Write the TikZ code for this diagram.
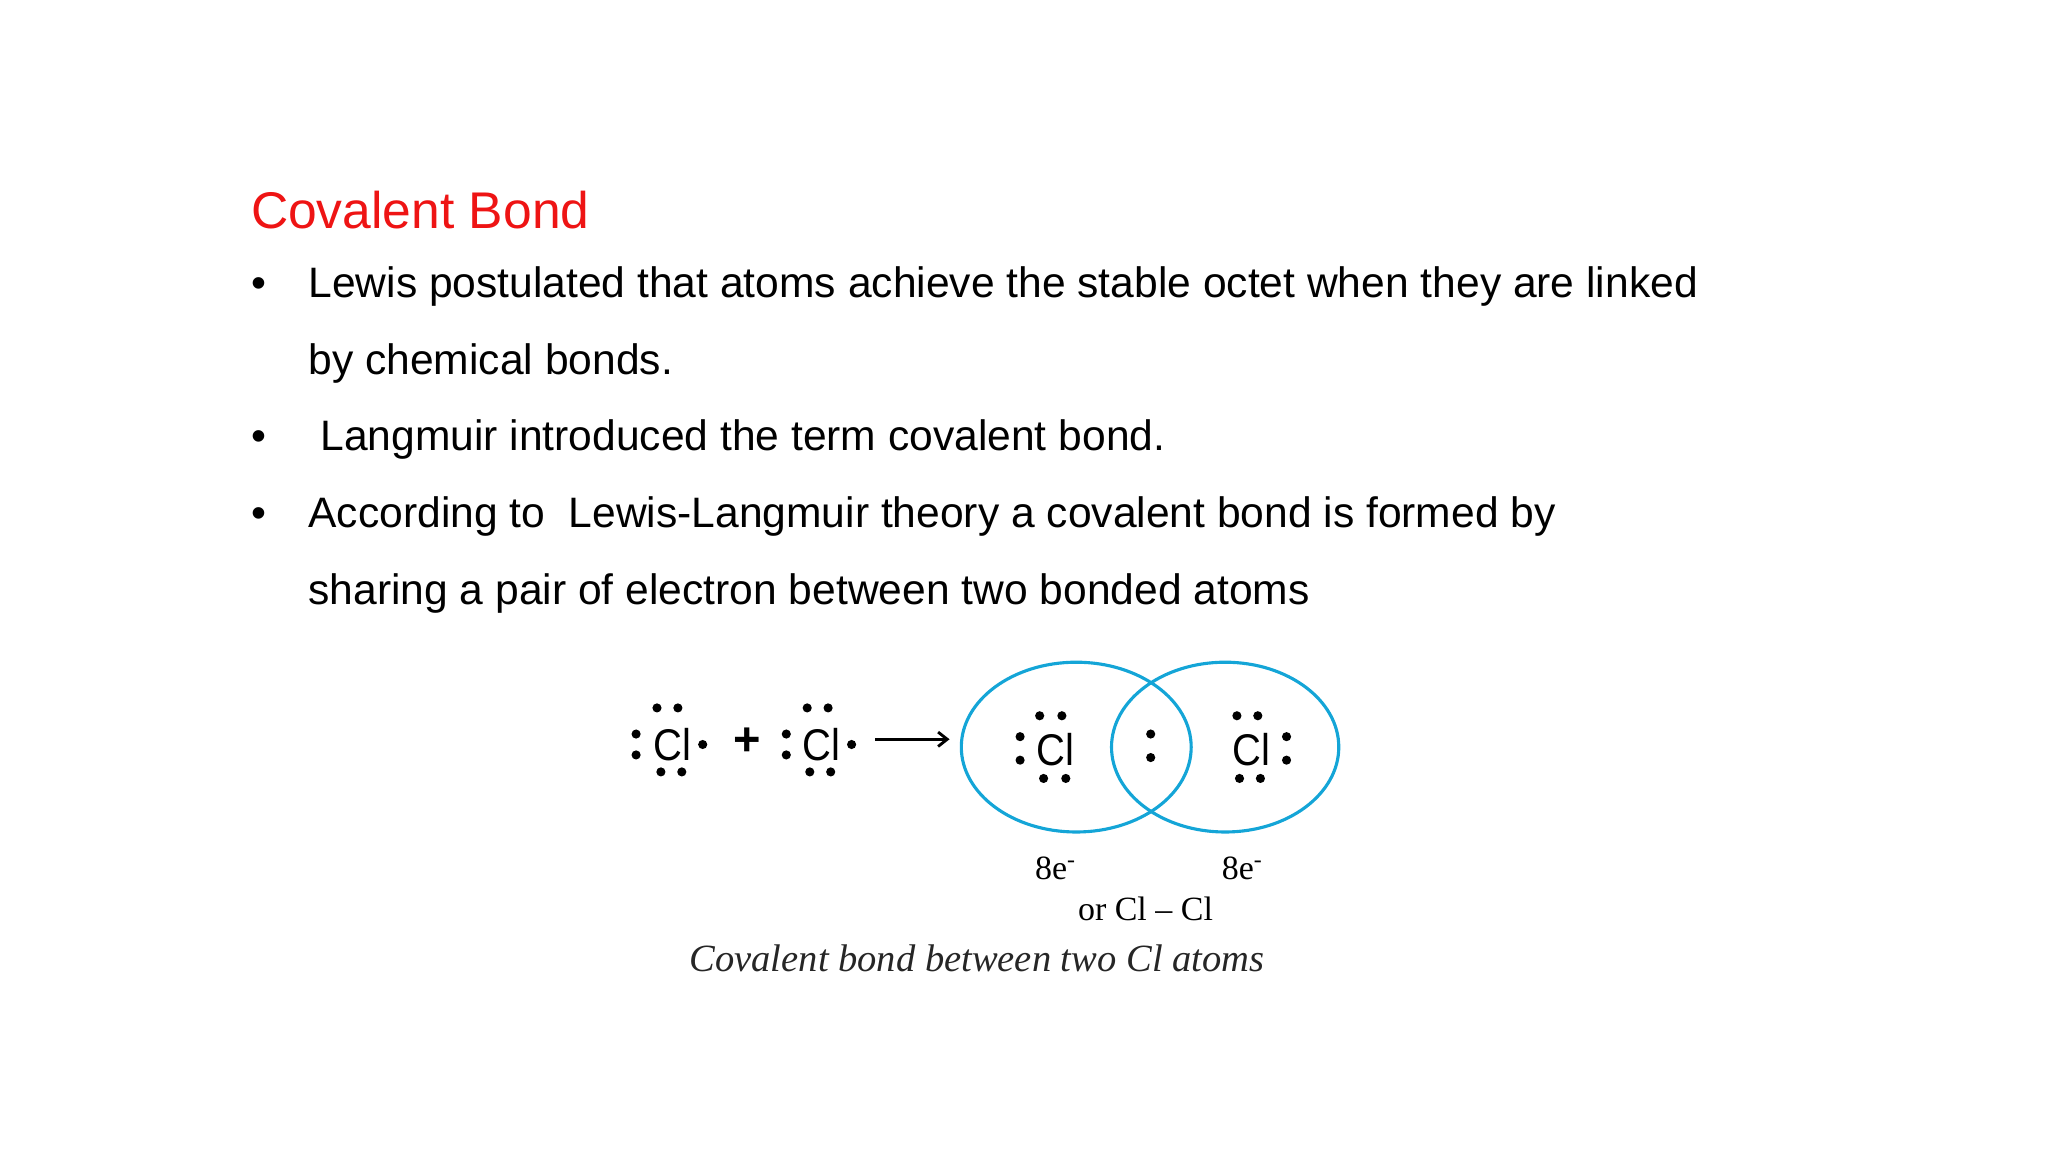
\documentclass[tikz,border=0pt]{standalone}
\usepackage{fontspec}
\usetikzlibrary{arrows.meta,shapes.geometric}
\setmainfont{Liberation Sans}
\newfontfamily\serifpart{Liberation Serif}
\definecolor{titlered}{RGB}{238,20,20}
\definecolor{ringblue}{RGB}{20,165,215}
\begin{document}
\begin{tikzpicture}[x=1pt,y=-1pt,
  body/.style={anchor=base west,inner sep=0pt,font=\fontsize{32.6}{38}\selectfont},
  bul/.style={anchor=base,inner sep=0pt,font=\fontsize{32.6}{38}\selectfont},
  sym/.style={inner sep=0pt,font=\fontsize{34}{38}\selectfont,xscale=0.9},
  ring/.style={draw=ringblue,line width=2.4pt},
  lbl/.style={inner sep=0pt,font=\serifpart\fontsize{26}{30}\selectfont},
  edot/.style={fill=black}]
\useasboundingbox (0,0) rectangle (1568,882);
\node[anchor=base west,inner sep=0pt,text=titlered,font=\fontsize{39.5}{44}\selectfont] (title) at (192,175) {Covalent Bond};
\node[bul] (b1) at (198,228) {•};
\node[body] (l1) at (236,228) {Lewis postulated that atoms achieve the stable octet when they are linked};
\node[body] (l2) at (236,287) {by chemical bonds.};
\node[bul] (b2) at (198,345) {•};
\node[body] (l3) at (236,345) {\ Langmuir introduced the term covalent bond.};
\node[bul] (b3) at (198,404) {•};
\node[body] (l4) at (236,404) {According to\ \ Lewis-Langmuir theory a covalent bond is formed by};
\node[body] (l5) at (236,463) {sharing a pair of electron between two bonded atoms};
% reactants
\node[sym] (cla) at (515,570) {Cl};
\node[inner sep=0pt,font=\bfseries\fontsize{36}{40}\selectfont] (plus) at (572,568) {+};
\node[sym] (clb) at (629,570) {Cl};
\foreach \x/\y in {487/562,487/578,503/542,519/542,506/591,522/591,538/570,
                   602/562,602/578,618/542,634/542,620/591,636/591,652/570}
  \fill[edot] (\x,\y) circle (3.5);
\coordinate (ars) at (670,566);
\coordinate (are) at (727,566);
\draw[line width=2.2pt,-{Straight Barb[length=7pt,width=11pt]}] (ars) -- (are);
% product
\node[ring,ellipse,minimum width=176,minimum height=130,inner sep=0pt] (r1) at (824,572) {};
\node[ring,ellipse,minimum width=174,minimum height=130,inner sep=0pt] (r2) at (938,572) {};
\node[sym] (clc) at (808,574) {Cl};
\node[sym] (cld) at (958,574) {Cl};
\foreach \x/\y in {781/564,781/582,796/548,813/548,799/596,816/596,
                   881/562,881/580,
                   947/548,963/548,949/596,965/596,985/564,985/582}
  \fill[edot] (\x,\y) circle (3.5);
\node[lbl] (e1) at (808,665) {8e\textsuperscript{-}};
\node[lbl] (e2) at (951,665) {8e\textsuperscript{-}};
\node[lbl] (or) at (877,696) {or Cl – Cl};
\node[inner sep=0pt,font=\serifpart\itshape\fontsize{29.5}{34}\selectfont,text=black!85] (cap) at (748,734) {Covalent bond between two Cl atoms};
\end{tikzpicture}
\end{document}
